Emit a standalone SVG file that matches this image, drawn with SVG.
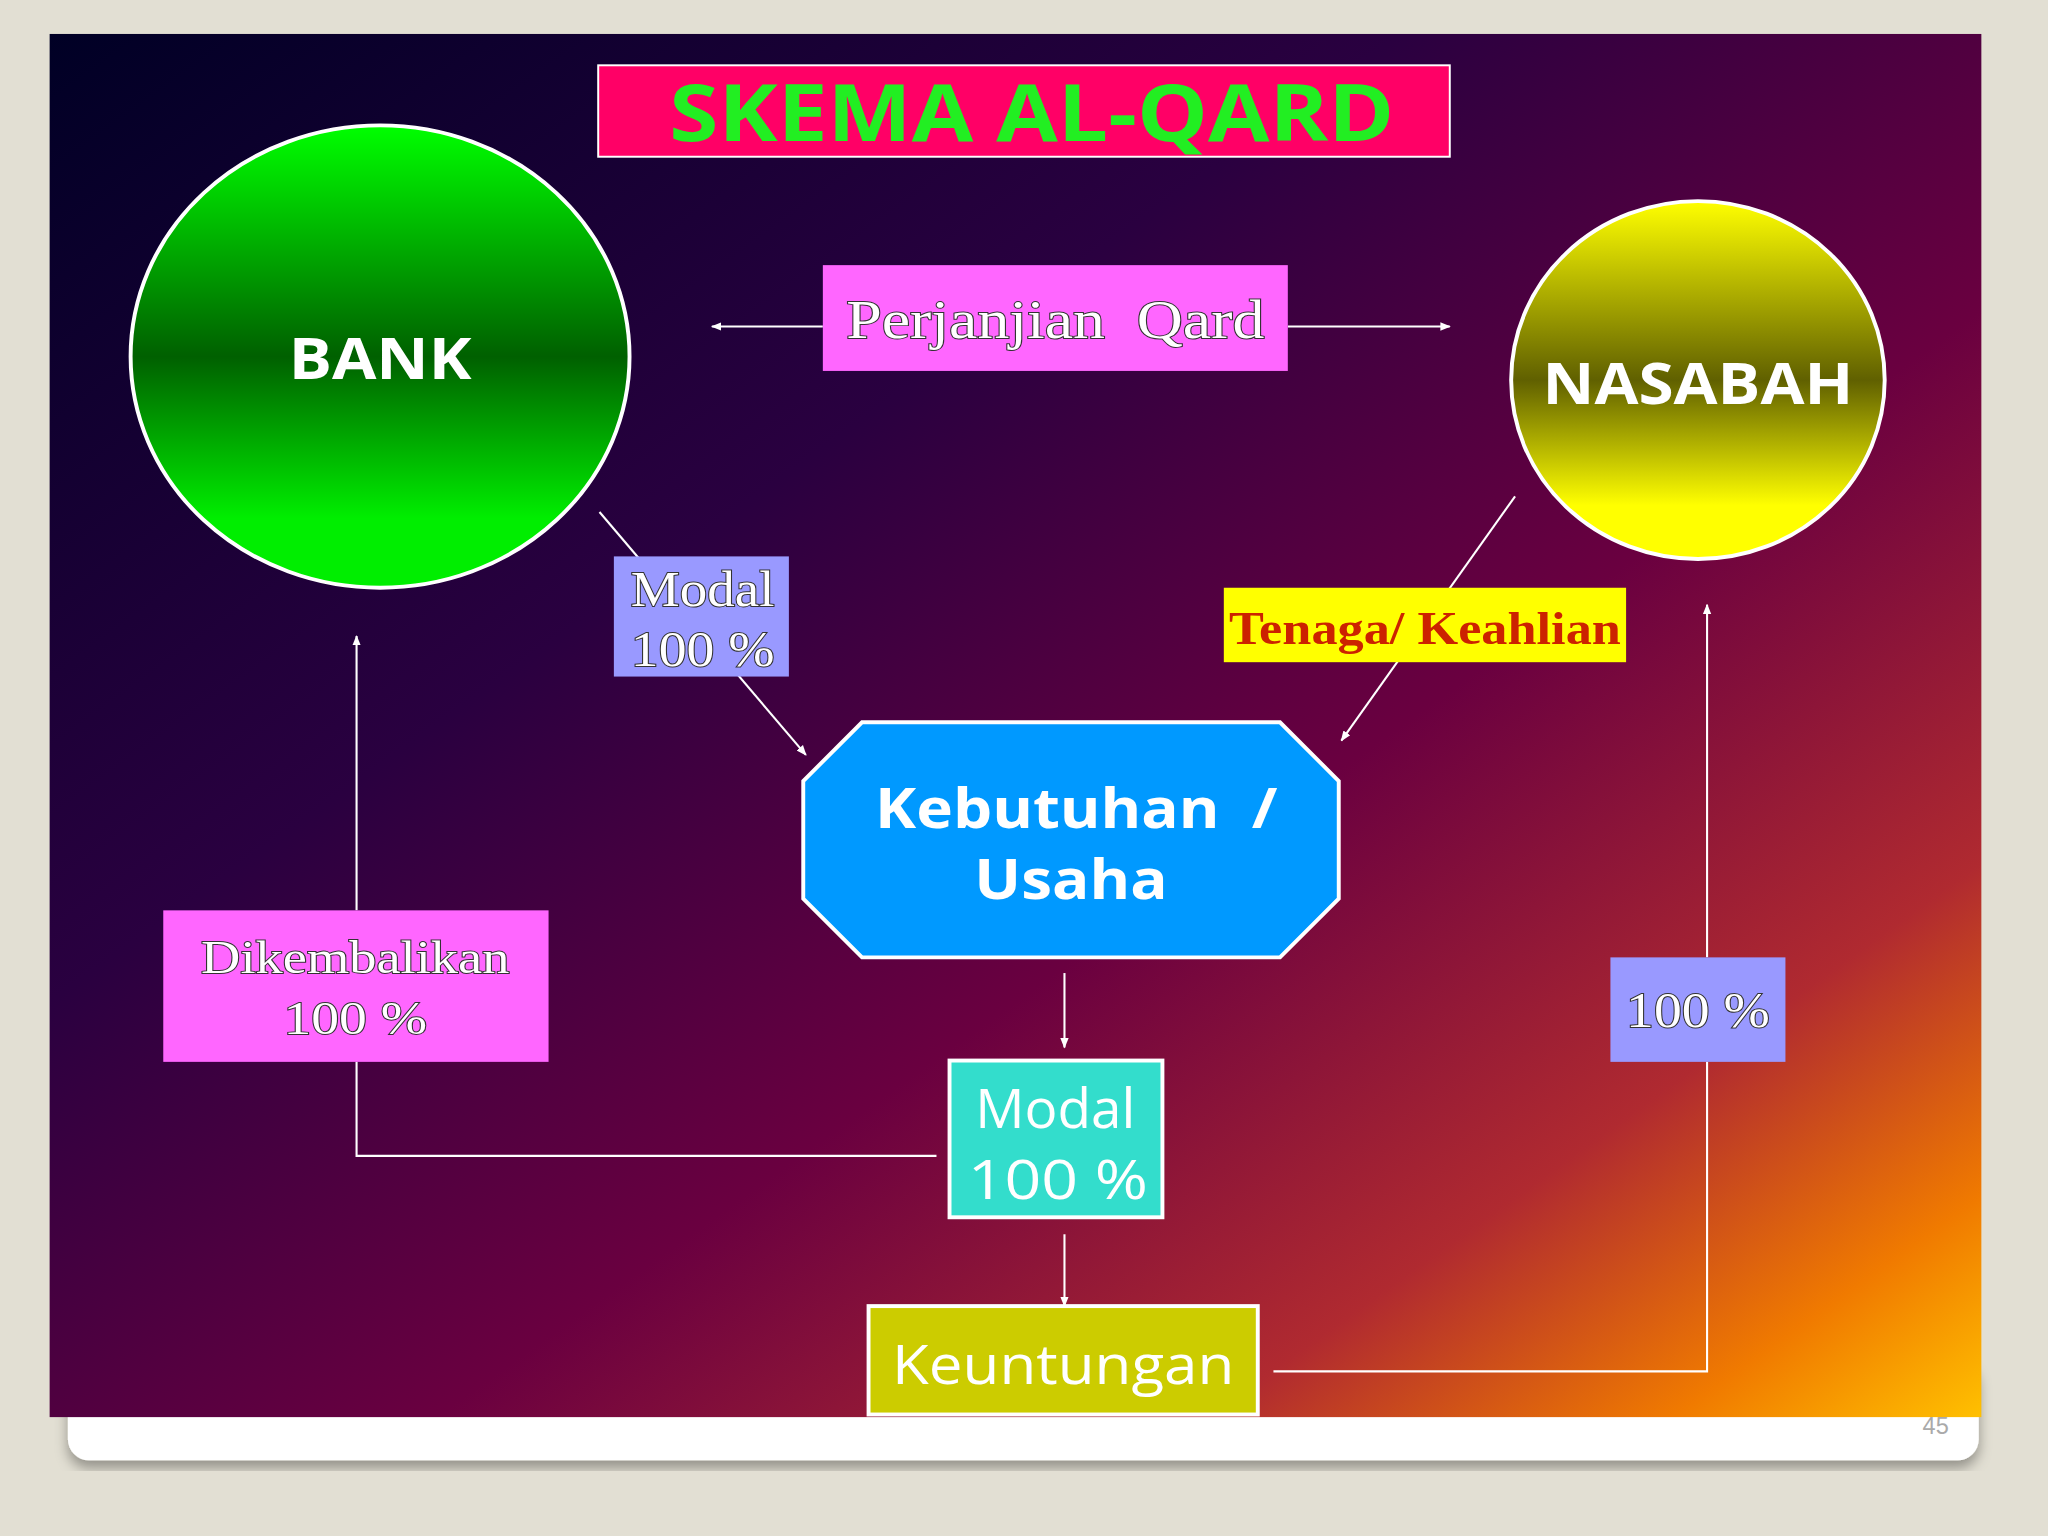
<svg xmlns="http://www.w3.org/2000/svg" width="2048" height="1536" viewBox="0 0 2048 1536">
<defs>
<style>
.ln{stroke:#fff;stroke-width:1.6;fill:none}
.arr{marker-end:url(#ah)}
.sans{font-family:"Open Sans","DejaVu Sans",sans-serif;font-weight:bold;fill:#fff;text-anchor:middle}
.serif{font-family:"Liberation Serif","Times New Roman",serif;fill:#fff;text-anchor:middle;stroke:#333;stroke-width:1.5;paint-order:stroke}
.light{font-family:"Open Sans","DejaVu Sans",sans-serif;fill:#fff;text-anchor:middle}
</style>
<marker id="ah" viewBox="0 0 10 10" refX="9" refY="5" markerWidth="8" markerHeight="8" orient="auto" markerUnits="userSpaceOnUse"><path d="M0,1 L10,5 L0,9 Z" fill="#fff"/></marker>
<linearGradient id="bg" x1="0" y1="0" x2="1" y2="1">
<stop offset="0" stop-color="#000025"/><stop offset="0.35" stop-color="#2a0040"/><stop offset="0.6" stop-color="#6a0040"/><stop offset="0.8" stop-color="#b02a30"/><stop offset="0.92" stop-color="#f07a00"/><stop offset="1" stop-color="#ffc000"/>
</linearGradient>
<linearGradient id="gg" x1="0" y1="0" x2="0" y2="1"><stop offset="0" stop-color="#00ff00"/><stop offset="0.5" stop-color="#006000"/><stop offset="0.85" stop-color="#00ee00"/></linearGradient>
<linearGradient id="yg" x1="0" y1="0" x2="0" y2="1"><stop offset="0" stop-color="#ffff00"/><stop offset="0.5" stop-color="#606000"/><stop offset="0.85" stop-color="#ffff00"/></linearGradient>
<filter id="sh"><feDropShadow dx="0" dy="6" stdDeviation="5" flood-opacity="0.35"/></filter>
</defs>
<rect width="2048" height="1536" fill="#e2dfd3"/>
<g transform="scale(1.3061)">
<rect x="52" y="1040" width="1463" height="78" rx="16" fill="#fff" filter="url(#sh)"/>
<rect x="38" y="26" width="1479" height="1059" fill="url(#bg)"/>
<text x="1482" y="1098" font-family="Liberation Sans,sans-serif" font-size="18" fill="#aaa" text-anchor="middle">45</text>
<g id="title"><rect x="458" y="50" width="652" height="70" fill="#ff0066" stroke="#fff" stroke-width="1.5"/><text x="790" y="108" font-family="Open Sans,DejaVu Sans,sans-serif" font-weight="bold" font-size="60" fill="#22ee22" text-anchor="middle" textLength="555" lengthAdjust="spacingAndGlyphs">SKEMA AL-QARD</text></g>
<g id="connectors">
<line class="ln arr" x1="630" y1="250" x2="545" y2="250"/>
<line class="ln arr" x1="986" y1="250" x2="1110" y2="250"/>
<line class="ln arr" x1="459" y1="392" x2="617" y2="578"/>
<line class="ln arr" x1="1160" y1="380" x2="1027" y2="567"/>
<line class="ln arr" x1="815" y1="745" x2="815" y2="802"/>
<line class="ln arr" x1="815" y1="945" x2="815" y2="1000"/>
<polyline class="ln" points="717,885 273,885 273,813"/>
<line class="ln arr" x1="273" y1="697" x2="273" y2="487"/>
<polyline class="ln" points="975,1050 1307,1050 1307,813"/>
<line class="ln arr" x1="1307" y1="733" x2="1307" y2="463"/>
</g>
<g id="bank"><ellipse cx="291" cy="273" rx="191" ry="177" fill="url(#gg)" stroke="#fff" stroke-width="3"/><text class="sans" x="291" y="290" font-size="44" textLength="140" lengthAdjust="spacingAndGlyphs">BANK</text></g>
<g id="nasabah"><ellipse cx="1300" cy="291" rx="143" ry="137" fill="url(#yg)" stroke="#fff" stroke-width="3"/><text class="sans" x="1300" y="309" font-size="44" textLength="238" lengthAdjust="spacingAndGlyphs">NASABAH</text></g>
<g id="perjanjian"><rect x="630" y="203" width="356" height="81" fill="#ff66ff"/><text class="serif" x="808" y="259" font-size="42" xml:space="preserve" textLength="320" lengthAdjust="spacingAndGlyphs">Perjanjian  Qard</text></g>
<g id="modal1"><rect x="470" y="426" width="134" height="92" fill="#9999ff"/><text class="serif" x="538" y="464" font-size="38" textLength="110" lengthAdjust="spacingAndGlyphs">Modal</text><text class="serif" x="538" y="510" font-size="38" textLength="110" lengthAdjust="spacingAndGlyphs">100 %</text></g>
<g id="tenaga"><rect x="937" y="450" width="308" height="57" fill="#ffff00"/><text x="1091" y="493" font-family="Liberation Serif,serif" font-weight="bold" font-size="36" fill="#cc2200" text-anchor="middle" textLength="300" lengthAdjust="spacingAndGlyphs">Tenaga/ Keahlian</text></g>
<g id="kebutuhan"><polygon points="660,553 980,553 1025,598 1025,688 980,733 660,733 615,688 615,598" fill="#0099ff" stroke="#fff" stroke-width="3"/><text class="sans" x="824" y="634" font-size="42" xml:space="preserve" textLength="308" lengthAdjust="spacingAndGlyphs">Kebutuhan  /</text><text class="sans" x="820" y="688" font-size="42" textLength="148" lengthAdjust="spacingAndGlyphs">Usaha</text></g>
<g id="modal2"><rect x="727" y="812" width="163" height="120" fill="#33ddcc" stroke="#fff" stroke-width="3"/><text class="light" x="808" y="864" font-size="42">Modal</text><text class="light" x="810" y="918" font-size="42" textLength="138" lengthAdjust="spacingAndGlyphs">100 %</text></g>
<g id="keuntungan"><rect x="665" y="1000" width="298" height="83" fill="#cccc00" stroke="#fff" stroke-width="3"/><text class="light" x="814" y="1060" font-size="42" textLength="262" lengthAdjust="spacingAndGlyphs">Keuntungan</text></g>
<g id="dikembalikan"><rect x="125" y="697" width="295" height="116" fill="#ff66ff"/><text class="serif" x="272" y="745" font-size="36" textLength="236" lengthAdjust="spacingAndGlyphs">Dikembalikan</text><text class="serif" x="272" y="792" font-size="36" textLength="110" lengthAdjust="spacingAndGlyphs">100 %</text></g>
<g id="pct"><rect x="1233" y="733" width="134" height="80" fill="#9999ff"/><text class="serif" x="1300" y="786" font-size="38" textLength="110" lengthAdjust="spacingAndGlyphs">100 %</text></g>
</g>
</svg>
